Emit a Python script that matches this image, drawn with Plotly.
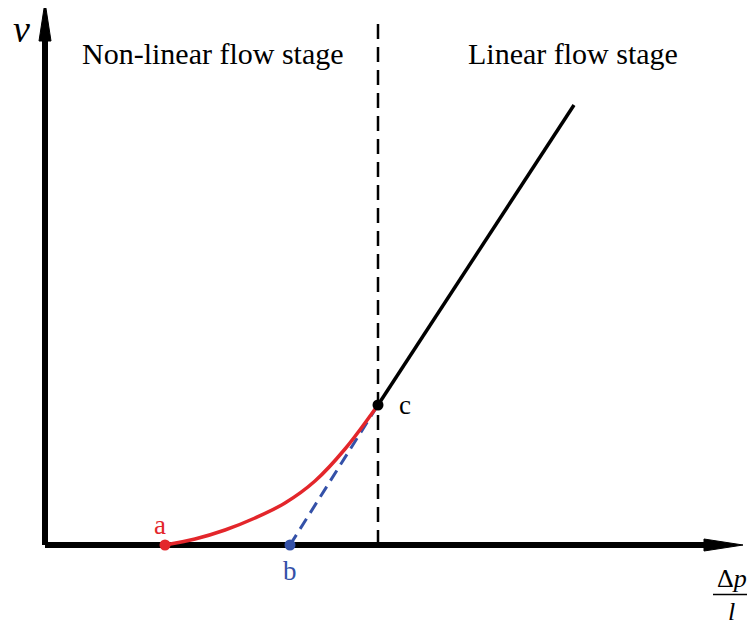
import plotly.graph_objects as go

# schematic units: 1 unit = 10 px, origin at the axes corner
curve_x = [12.0, 15.0, 18.0, 21.0, 24.0, 27.0, 30.0, 33.3]
curve_v = [0.0, 0.6, 1.5, 2.7, 4.2, 6.4, 9.6, 14.0]

point_a = (12.0, 0.0)
point_b = (24.5, 0.0)
point_c = (33.3, 14.0)
linear_end = (52.9, 44.0)

x_axis_end = 66.0
y_axis_end = 50.5
divider_top = 52.5

RED = '#e3262b'
BLUE = '#3451a8'
SERIF = 'Liberation Serif, Times New Roman, serif'

fig = go.Figure()

# axes
fig.add_trace(go.Scatter(x=[0, x_axis_end], y=[0, 0], mode='lines',
                         line=dict(color='black', width=6)))
fig.add_trace(go.Scatter(x=[0, 0], y=[0, y_axis_end], mode='lines',
                         line=dict(color='black', width=6)))

# stage divider
fig.add_trace(go.Scatter(x=[point_c[0], point_c[0]], y=[0, divider_top], mode='lines',
                         line=dict(color='black', width=2.5, dash='15px,8px')))

# tangent b -> c
fig.add_trace(go.Scatter(x=[point_b[0], point_c[0]], y=[point_b[1], point_c[1]], mode='lines',
                         line=dict(color=BLUE, width=3, dash='12px,7px')))

# non-linear curve a -> c
fig.add_trace(go.Scatter(x=curve_x, y=curve_v, mode='lines',
                         line=dict(color=RED, width=3.5, shape='spline', smoothing=1.0)))

# linear stage
fig.add_trace(go.Scatter(x=[point_c[0], linear_end[0]], y=[point_c[1], linear_end[1]], mode='lines',
                         line=dict(color='black', width=3.5)))

# points
fig.add_trace(go.Scatter(x=[point_a[0]], y=[point_a[1]], mode='markers',
                         marker=dict(color=RED, size=11)))
fig.add_trace(go.Scatter(x=[point_b[0]], y=[point_b[1]], mode='markers',
                         marker=dict(color=BLUE, size=11)))
fig.add_trace(go.Scatter(x=[point_c[0]], y=[point_c[1]], mode='markers',
                         marker=dict(color='black', size=11)))

# arrow heads
fig.add_shape(type='path', path='M 65.9 -0.6 L 69.8 0 L 65.9 0.6 Z',
              fillcolor='black', line=dict(color='black', width=1))
fig.add_shape(type='path', path='M -0.6 50.4 L 0 54.3 L 0.6 50.4 Z',
              fillcolor='black', line=dict(color='black', width=1))

# fraction bar for dp/l
fig.add_shape(type='line', x0=66.8, x1=70.7, y0=-4.95, y1=-4.95,
              line=dict(color='black', width=1.5))

texts = [
    dict(x=-2.4, y=51.6, text='<i>v</i>', size=38, color='black'),
    dict(x=16.8, y=49.2, text='Non-linear flow stage', size=30, color='black'),
    dict(x=52.8, y=49.2, text='Linear flow stage', size=30, color='black'),
    dict(x=11.5, y=2.0, text='a', size=27, color=RED),
    dict(x=24.5, y=-2.6, text='b', size=27, color=BLUE),
    dict(x=36.0, y=14.0, text='c', size=27, color='black'),
    dict(x=68.7, y=-3.3, text='Δ<i>p</i>', size=26, color='black'),
    dict(x=68.6, y=-6.6, text='<i>l</i>', size=26, color='black'),
]
for t in texts:
    fig.add_annotation(x=t['x'], y=t['y'], text=t['text'], showarrow=False,
                       font=dict(family=SERIF, size=t['size'], color=t['color']))

# page body adds an 8 px offset, so the ranges are shifted to compensate
fig.update_xaxes(range=[-3.7, 71.8], visible=False)
fig.update_yaxes(range=[-9.3, 53.7], visible=False)
fig.update_layout(width=755, height=630, margin=dict(l=0, r=0, t=0, b=0),
                  plot_bgcolor='white', paper_bgcolor='white', showlegend=False)

fig.write_html("out.html")
